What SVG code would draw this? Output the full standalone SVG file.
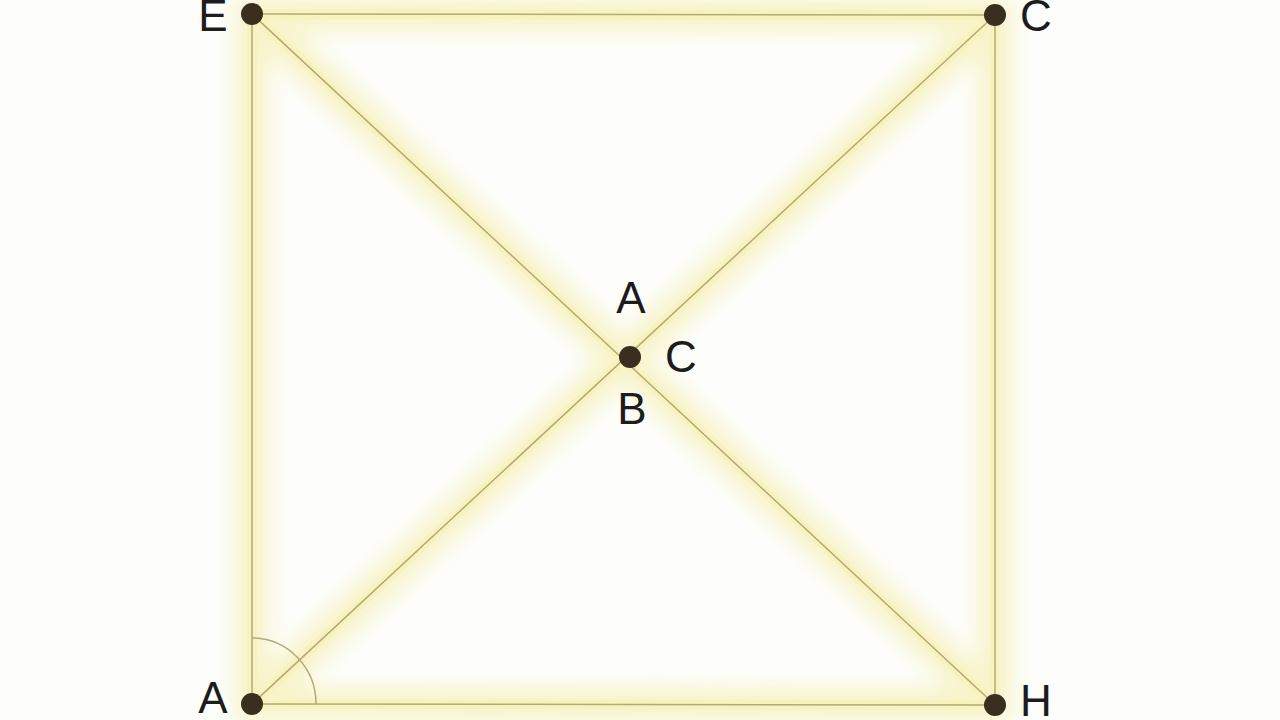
<svg xmlns="http://www.w3.org/2000/svg" width="1280" height="720" viewBox="0 0 1280 720">
<defs>
<filter id="glow" x="-20%" y="-20%" width="140%" height="140%"><feGaussianBlur stdDeviation="10"/></filter>
<style>
.halo{stroke:#f4ec9a;stroke-width:34;stroke-opacity:0.5;fill:none;stroke-linecap:round}
.core{stroke:#f7f0b0;stroke-width:10;fill:none;stroke-opacity:0.55}
.ln{stroke:#b2aa78;stroke-width:1.5;fill:none}
.dot{fill:#3a2e1e}
.lbl{font-family:"Liberation Sans",Arial,sans-serif;font-size:44px;fill:#1c1c1c;text-anchor:middle}
</style>
</defs>
<rect width="1280" height="720" fill="#fdfdfb"/>
<g id="connectors">
<g filter="url(#glow)">
<path class="halo" d="M252,14 L995,15 L995,705 L252,704 Z M252,14 L995,705 M252,704 L995,15"/>
</g>
<path class="core" d="M252,14 L995,15 L995,705 L252,704 Z M252,14 L995,705 M252,704 L995,15"/>
<path class="ln" d="M252,14 L995,15 L995,705 L252,704 Z M252,14 L995,705 M252,704 L995,15"/>
<path class="ln" d="M252,638 A64,66 0 0 1 316,704" stroke="#8a8a80"/>
</g>
<g id="node-E"><circle class="dot" cx="252" cy="14" r="11"/><text class="lbl" x="213" y="31">E</text></g>
<g id="node-C-top"><circle class="dot" cx="995" cy="15" r="11"/><text class="lbl" x="1036" y="31">C</text></g>
<g id="node-A-bottom"><circle class="dot" cx="252" cy="704" r="11"/><text class="lbl" x="213" y="713">A</text></g>
<g id="node-H"><circle class="dot" cx="995" cy="705" r="11"/><text class="lbl" x="1036" y="716">H</text></g>
<g id="node-center"><circle class="dot" cx="630" cy="357" r="11"/>
<text class="lbl" x="631" y="313">A</text>
<text class="lbl" x="681" y="372">C</text>
<text class="lbl" x="632" y="424">B</text>
</g>
</svg>
